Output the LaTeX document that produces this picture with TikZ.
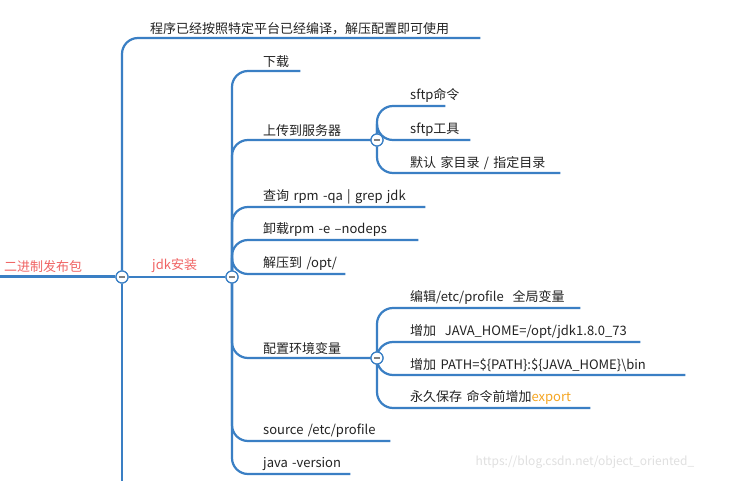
\documentclass[tikz,border=0pt]{standalone}
\usepackage{fontspec}
\setmainfont{Noto Sans CJK SC}
\definecolor{br}{HTML}{3A7FC4}
\definecolor{rt}{HTML}{F06464}
\definecolor{tx}{HTML}{222222}
\newcommand{\mmleaf}[6]{%
  \node[leaf,text width=#5-#3] (#1) at (#3,#4) {#6};
  \draw[conn] (#2) |- (#1.south east);}
\begin{document}
\begin{tikzpicture}[x=1pt,y=-1pt,
  leaf/.style={anchor=south west,inner xsep=0pt,inner ysep=3pt,align=left,text=tx,font=\fontsize{13}{15}\selectfont},
  conn/.style={draw=br,line width=2.2pt,rounded corners=16pt},
  knob/.style={circle,draw=br,fill=white,line width=1.2pt,minimum size=12pt,inner sep=0pt,
    path picture={\draw[gray,line width=1.4pt] ([xshift=-3pt]path picture bounding box.center) -- ([xshift=3pt]path picture bounding box.center);}}]
\useasboundingbox[fill=white] (0,0) rectangle (748,481);
\coordinate (rootl) at (0,277);
\node[knob] (c1) at (122,277) {};
\node[knob] (c2) at (232,277) {};
\node[knob] (c3) at (377,140) {};
\node[knob] (c4) at (377,358) {};
\coordinate (bot) at (122,484);
\begin{scope}[on background layer/.style={}]
\draw[br,line width=3pt] (rootl) -- (c1);
\draw[conn] (c1) -- (bot);
\draw[conn] (c1) -- (c2);
\end{scope}
\node[anchor=south west,inner sep=2pt,text=rt,font=\fontsize{13}{15}\selectfont] (root) at (2,275) {二进制发布包};
\node[anchor=south west,inner sep=2pt,text=rt,font=\fontsize{13}{15}\selectfont] (jdk) at (150,275) {jdk安装};
\mmleaf{t0}{c1}{150}{38}{480}{程序已经按照特定平台已经编译，解压配置即可使用}
\mmleaf{a1}{c2}{263}{71}{300}{下载}
\mmleaf{a2}{c2}{263}{140}{377}{上传到服务器}
\mmleaf{b1}{c3}{410}{106}{445}{sftp命令}
\mmleaf{b2}{c3}{410}{140}{470}{sftp工具}
\mmleaf{b3}{c3}{410}{173}{560}{默认 家目录 / 指定目录}
\mmleaf{a3}{c2}{263}{207}{425}{查询 rpm -qa | grep jdk}
\mmleaf{a4}{c2}{263}{240}{418}{卸载rpm -e --nodeps}
\mmleaf{a5}{c2}{263}{274}{345}{解压到 /opt/}
\mmleaf{a6}{c2}{263}{358}{377}{配置环境变量}
\mmleaf{d1}{c4}{410}{308}{580}{编辑/etc/profile\ \ 全局变量}
\mmleaf{d2}{c4}{410}{342}{640}{增加\ \ JAVA\_HOME=/opt/jdk1.8.0\_73}
\mmleaf{d3}{c4}{410}{375}{685}{增加 PATH=\$\{PATH\}:\$\{JAVA\_HOME\}\textbackslash bin}
\mmleaf{d4}{c4}{410}{408}{590}{永久保存 命令前增加\textcolor[HTML]{F5A623}{export}}
\mmleaf{a7}{c2}{263}{441}{390}{source /etc/profile}
\mmleaf{a8}{c2}{263}{474}{350}{java -version}
\node[knob] at (c1) {};
\node[knob] at (c2) {};
\node[knob] at (c3) {};
\node[knob] at (c4) {};
\node[anchor=west,text=black!12,font=\fontsize{12}{14}\selectfont] (wm) at (472,462) {https://blog.csdn.net/object\_oriented\_};
\end{tikzpicture}
\end{document}
